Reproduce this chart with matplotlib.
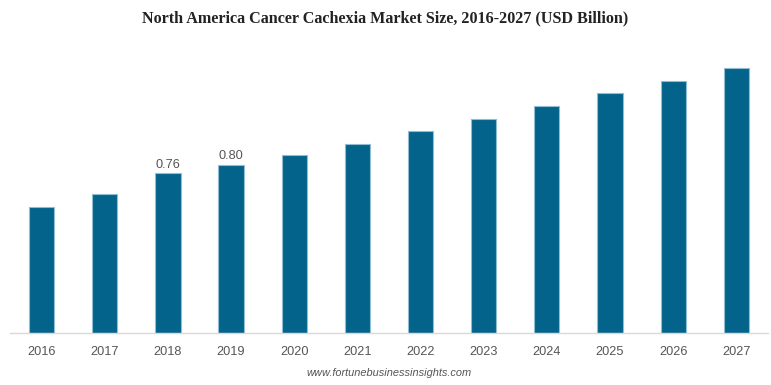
import matplotlib.pyplot as plt
import numpy as np

years = ["2016", "2017", "2018", "2019", "2020", "2021",
         "2022", "2023", "2024", "2025", "2026", "2027"]
values = [0.60, 0.662, 0.76, 0.80, 0.848, 0.90,
          0.96, 1.018, 1.078, 1.14, 1.199, 1.259]
# only these two bars carry a value label
labelled = {"2018": "0.76", "2019": "0.80"}

plt.rcParams["font.family"] = ["Liberation Sans", "DejaVu Sans"]

fig = plt.figure(figsize=(7.71, 3.85), dpi=100)
ax = fig.add_axes([0.013, 0.135, 0.983, 0.761])

x = np.arange(len(years))
bars = ax.bar(x, values, width=0.4, color="#03638a",
              edgecolor="#8fbdd2", linewidth=0.8)

for xi, yr, v in zip(x, years, values):
    if yr in labelled:
        ax.text(xi, v + 0.012, labelled[yr], ha="center", va="bottom",
                fontsize=9.2, color="#555555")

ax.set_xlim(-0.5, len(years) - 0.5)
ax.set_ylim(0, 1.392)
ax.set_xticks(x)
ax.set_xticklabels(years, fontsize=9.2, color="#555555")
ax.tick_params(axis="x", length=0, pad=9)
ax.set_yticks([])
for s in ["top", "right", "left"]:
    ax.spines[s].set_visible(False)
ax.spines["bottom"].set_color("#d9d9d9")
ax.spines["bottom"].set_linewidth(1)

fig.text(0.5, 0.953, "North America Cancer Cachexia Market Size, 2016-2027 (USD Billion)",
         ha="center", va="center", fontsize=11.6, fontweight="bold",
         family="Liberation Serif", color="#222222")
fig.text(0.505, 0.032, "www.fortunebusinessinsights.com", ha="center", va="center",
         fontsize=7.9, style="italic", color="#555555")

fig.savefig("out.png", dpi=100)
